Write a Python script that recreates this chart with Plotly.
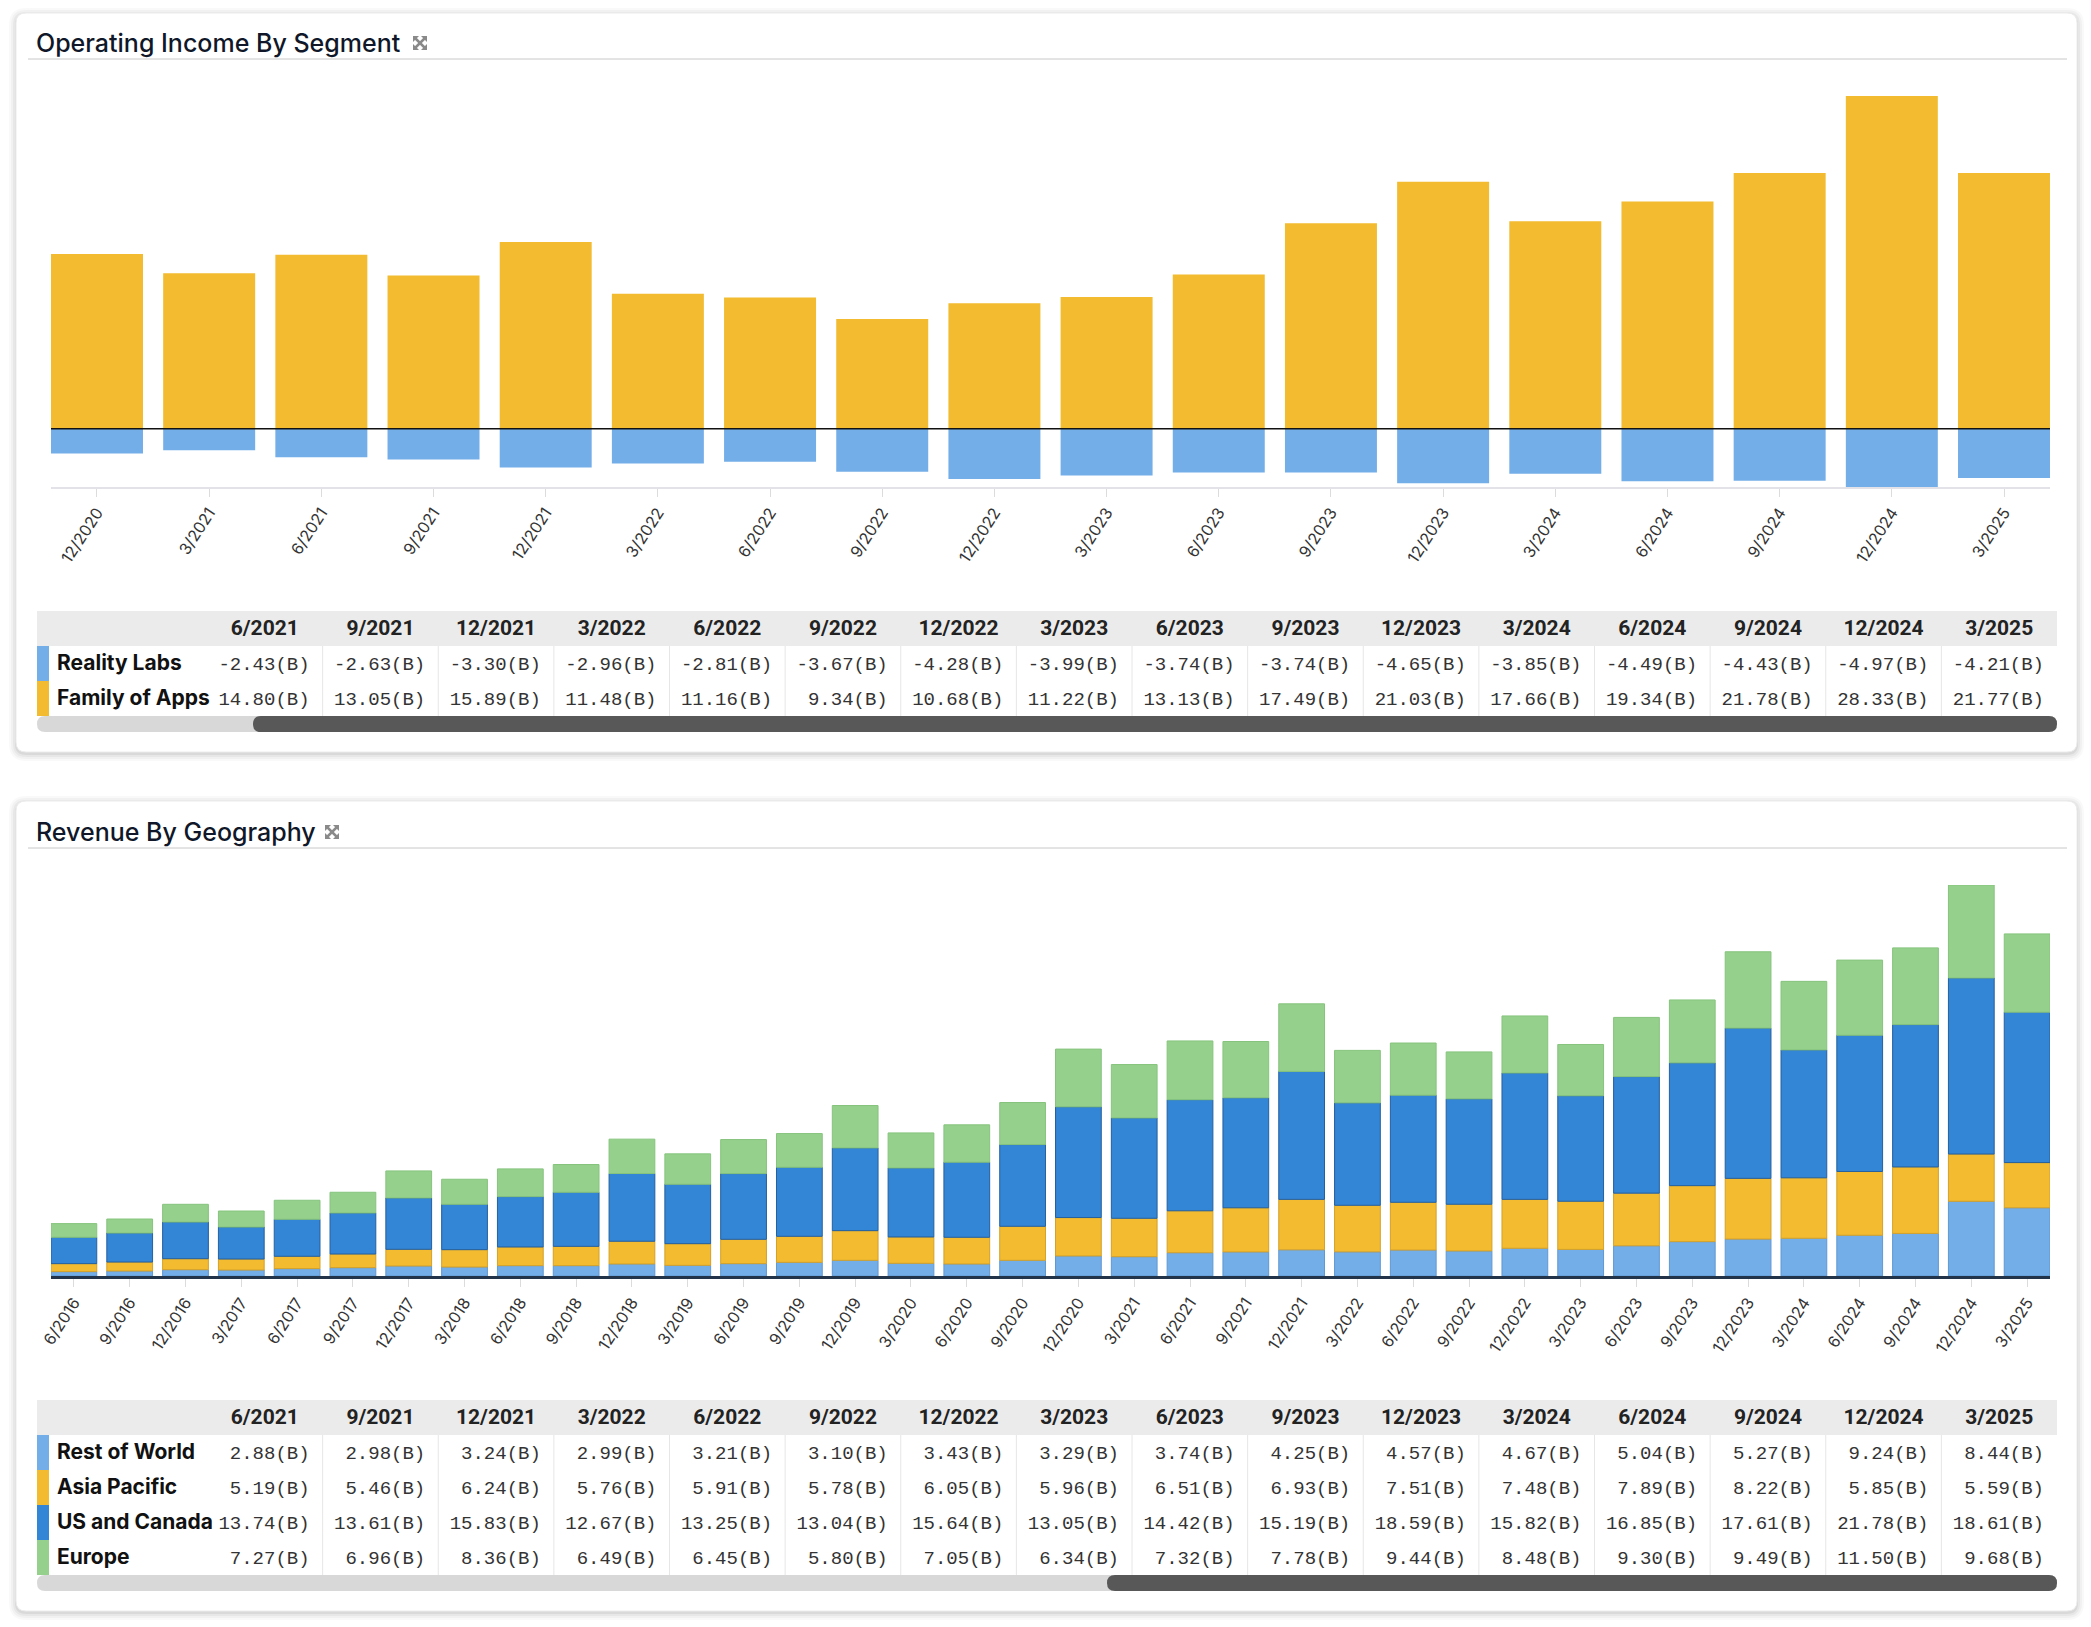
import plotly.graph_objects as go

W, H = 2091, 1627

# ---------------- data ----------------
seg_dates = ["12/2020", "3/2021", "6/2021", "9/2021", "12/2021", "3/2022", "6/2022", "9/2022",
             "12/2022", "3/2023", "6/2023", "9/2023", "12/2023", "3/2024", "6/2024", "9/2024",
             "12/2024", "3/2025"]
reality_labs = [-2.12, -1.83, -2.43, -2.63, -3.30, -2.96, -2.81, -3.67, -4.28, -3.99, -3.74,
                -3.74, -4.65, -3.85, -4.49, -4.43, -4.97, -4.21]
family_of_apps = [14.87, 13.23, 14.80, 13.05, 15.89, 11.48, 11.16, 9.34, 10.68, 11.22, 13.13,
                  17.49, 21.03, 17.66, 19.34, 21.78, 28.33, 21.77]

geo_dates = ["6/2016", "9/2016", "12/2016", "3/2017", "6/2017", "9/2017", "12/2017", "3/2018",
             "6/2018", "9/2018", "12/2018", "3/2019", "6/2019", "9/2019", "12/2019", "3/2020",
             "6/2020", "9/2020", "12/2020", "3/2021", "6/2021", "9/2021", "12/2021", "3/2022",
             "6/2022", "9/2022", "12/2022", "3/2023", "6/2023", "9/2023", "12/2023", "3/2024",
             "6/2024", "9/2024", "12/2024", "3/2025"]
rest_of_world = [0.54, 0.62, 0.78, 0.74, 0.91, 1.03, 1.24, 1.11, 1.28, 1.28, 1.49, 1.32, 1.53,
                 1.69, 1.94, 1.57, 1.49, 1.94, 2.48, 2.39, 2.88, 2.98, 3.24, 2.99, 3.21, 3.10,
                 3.43, 3.29, 3.74, 4.25, 4.57, 4.67, 5.04, 5.27, 9.24, 8.44]
asia_pacific = [0.99, 1.11, 1.36, 1.36, 1.53, 1.69, 2.06, 2.15, 2.31, 2.39, 2.81, 2.68, 3.01,
                3.22, 3.67, 3.26, 3.30, 4.21, 4.75, 4.75, 5.19, 5.46, 6.24, 5.76, 5.91, 5.78,
                6.05, 5.96, 6.51, 6.93, 7.51, 7.48, 7.89, 8.22, 5.85, 5.59]
us_canada = [3.26, 3.59, 4.54, 3.96, 4.58, 5.08, 6.36, 5.61, 6.23, 6.69, 8.38, 7.35, 8.13, 8.54,
             10.24, 8.54, 9.29, 10.11, 13.70, 12.42, 13.74, 13.61, 15.83, 12.67, 13.25, 13.04,
             15.64, 13.05, 14.42, 15.19, 18.59, 15.82, 16.85, 17.61, 21.78, 18.61]
europe = [1.69, 1.73, 2.19, 1.98, 2.35, 2.56, 3.34, 3.10, 3.43, 3.43, 4.25, 3.76, 4.21, 4.17,
          5.24, 4.33, 4.62, 5.20, 7.14, 6.60, 7.27, 6.96, 8.36, 6.49, 6.45, 5.80, 7.05, 6.34,
          7.32, 7.78, 9.44, 8.48, 9.30, 9.49, 11.50, 9.68]

TABLE_COLS = 16

# ---------------- style ----------------
C_LBLUE = "#74aee9"
C_YELLOW = "#f2bb30"
C_BLUE = "#3385d6"
C_GREEN = "#95d08c"

# table geometry (pixel units inside the table axes)
T_W = 2020
MARK_W = 12
LABEL_W = 158
COL_W = (T_W - MARK_W - LABEL_W) / TABLE_COLS
ROW_H = 35
TXT_DY = 1.5


def px(x):
    return x / W


def py(y):
    return 1 - y / H


def rr_path(x0, y0, x1, y1, r):
    pts = [
        f"M {px(x0 + r)},{py(y0)}", f"L {px(x1 - r)},{py(y0)}",
        f"Q {px(x1)},{py(y0)} {px(x1)},{py(y0 + r)}", f"L {px(x1)},{py(y1 - r)}",
        f"Q {px(x1)},{py(y1)} {px(x1 - r)},{py(y1)}", f"L {px(x0 + r)},{py(y1)}",
        f"Q {px(x0)},{py(y1)} {px(x0)},{py(y1 - r)}", f"L {px(x0)},{py(y0 + r)}",
        f"Q {px(x0)},{py(y0)} {px(x0 + r)},{py(y0)}", "Z"]
    return " ".join(pts)


fig = go.Figure()
shapes = []

# ---------------- cards (drawn first) ----------------
for (y0, y1) in [(13, 752), (801, 1611)]:
    for k, a in [(7, 0.025), (5, 0.03), (3, 0.04), (1, 0.06)]:
        shapes.append(dict(type="path", path=rr_path(16 - k, y0 - k + 2, 2077 + k, y1 + k + 2, 10 + k),
                           xref="paper", yref="paper", fillcolor=f"rgba(0,0,0,{a})",
                           line=dict(width=0), layer="below"))
    shapes.append(dict(type="path", path=rr_path(16, y0, 2077, y1, 10), xref="paper", yref="paper",
                       fillcolor="white", line=dict(color="#ececec", width=1), layer="below"))

# ---------------- top chart ----------------
fig.add_trace(go.Bar(x=seg_dates, y=reality_labs, name="Reality Labs", marker_color=C_LBLUE,
                     marker_line_width=0, xaxis="x", yaxis="y"))
fig.add_trace(go.Bar(x=seg_dates, y=family_of_apps, name="Family of Apps", marker_color=C_YELLOW,
                     marker_line_width=0, xaxis="x", yaxis="y"))

# ---------------- bottom chart ----------------
for name, vals, col, lc in [("Rest of World", rest_of_world, C_LBLUE, "#5f98d2"),
                            ("Asia Pacific", asia_pacific, C_YELLOW, "#d4a12a"),
                            ("US and Canada", us_canada, C_BLUE, "#24609e"),
                            ("Europe", europe, C_GREEN, "#86c47d")]:
    fig.add_trace(go.Bar(x=geo_dates, y=vals, name=name, marker_color=col,
                         marker_line_color=lc, marker_line_width=1, xaxis="x2", yaxis="y2"))


# ---------------- tables (drawn on their own pixel-unit axes) ----------------
def fmt(v):
    return f"{v:.2f}(B)"


def add_table(ax, dates, labels, colors, series):
    xa, ya = f"x{ax}", f"y{ax}"
    n = len(labels)
    d = dates[-TABLE_COLS:]
    col_left = [MARK_W + LABEL_W + j * COL_W for j in range(TABLE_COLS)]
    shapes.append(dict(type="rect", xref=xa, yref=ya, x0=0, x1=T_W, y0=0, y1=ROW_H,
                       fillcolor="#ebebeb", line=dict(width=0), layer="below"))
    for i, c in enumerate(colors):
        shapes.append(dict(type="rect", xref=xa, yref=ya, x0=0, x1=MARK_W,
                           y0=ROW_H * (i + 1), y1=ROW_H * (i + 2),
                           fillcolor=c, line=dict(width=0), layer="below"))
    for j in range(1, TABLE_COLS):
        shapes.append(dict(type="line", xref=xa, yref=ya, x0=col_left[j], x1=col_left[j],
                           y0=ROW_H, y1=ROW_H * (n + 1), line=dict(color="#e6e6e6", width=1),
                           layer="below"))
    fig.add_trace(go.Scatter(x=[cl + COL_W / 2 for cl in col_left],
                             y=[ROW_H / 2 + TXT_DY] * TABLE_COLS,
                             text=[f"<b>{t}</b>" for t in d], mode="text",
                             textposition="middle center", hoverinfo="skip",
                             textfont=dict(family="Roboto", size=21, color="#222222"),
                             xaxis=xa, yaxis=ya))
    fig.add_trace(go.Scatter(x=[MARK_W + 8] * n, y=[ROW_H * (i + 1.5) + TXT_DY for i in range(n)],
                             text=[f"<b>{l}</b>" for l in labels], mode="text",
                             textposition="middle right", hoverinfo="skip",
                             textfont=dict(family="Inter", size=21, color="#111111"),
                             xaxis=xa, yaxis=ya))
    xs, ys, ts = [], [], []
    for i, s in enumerate(series):
        for j, v in enumerate(s[-TABLE_COLS:]):
            xs.append(col_left[j] + COL_W - 13)
            ys.append(ROW_H * (i + 1.5) + TXT_DY)
            ts.append(fmt(v))
    fig.add_trace(go.Scatter(x=xs, y=ys, text=ts, mode="text", textposition="middle left",
                             hoverinfo="skip",
                             textfont=dict(family="Liberation Mono", size=19, color="#333333"),
                             xaxis=xa, yaxis=ya))


add_table(3, seg_dates, ["Reality Labs", "Family of Apps"], [C_LBLUE, C_YELLOW],
          [reality_labs, family_of_apps])
add_table(4, geo_dates, ["Rest of World", "Asia Pacific", "US and Canada", "Europe"],
          [C_LBLUE, C_YELLOW, C_BLUE, C_GREEN],
          [rest_of_world, asia_pacific, us_canada, europe])

# ---------------- decorations ----------------
for yl in [59, 848]:
    shapes.append(dict(type="line", xref="paper", yref="paper", x0=px(28), x1=px(2067),
                       y0=py(yl), y1=py(yl), line=dict(color="#c8c8c8", width=1)))

for (cx, cy) in [(420, 43), (332, 832)]:
    for (ax, ay, bx, by) in [(cx - 5, cy - 5, cx + 5, cy + 5), (cx - 5, cy + 5, cx + 5, cy - 5)]:
        shapes.append(dict(type="line", xref="paper", yref="paper", x0=px(ax), y0=py(ay),
                           x1=px(bx), y1=py(by), line=dict(color="#8a8a8a", width=2.5)))
    for sx in (-1, 1):
        for sy in (-1, 1):
            xc, yc = cx + sx * 7, cy + sy * 7
            p = (f"M {px(xc)},{py(yc)} L {px(xc - sx * 6)},{py(yc)} "
                 f"L {px(xc)},{py(yc - sy * 6)} Z")
            shapes.append(dict(type="path", path=p, xref="paper", yref="paper",
                               fillcolor="#8a8a8a", line=dict(width=0)))

shapes.append(dict(type="line", xref="x domain", yref="y", x0=0, x1=1, y0=0, y1=0,
                   line=dict(color="#111111", width=1.5)))

for (yt, thumb_x0) in [(716, 253), (1575, 1107)]:
    shapes.append(dict(type="path", path=rr_path(37, yt, 2057, yt + 16, 8), xref="paper",
                       yref="paper", fillcolor="#d8d8d8", line=dict(width=0)))
    shapes.append(dict(type="path", path=rr_path(thumb_x0, yt, 2057, yt + 16, 8), xref="paper",
                       yref="paper", fillcolor="#585858", line=dict(width=0)))

annotations = [
    dict(text="Operating Income By Segment", x=px(34), y=py(43), xref="paper", yref="paper",
         xanchor="left", yanchor="middle", showarrow=False,
         font=dict(family="Inter", size=25, color="#0f1729", weight=500)),
    dict(text="Revenue By Geography", x=px(34), y=py(832), xref="paper", yref="paper",
         xanchor="left", yanchor="middle", showarrow=False,
         font=dict(family="Inter", size=25, color="#0f1729", weight=500)),
]

tickfont = dict(family="Inter", size=16, color="#333333")
hidden = dict(visible=False, showgrid=False, zeroline=False, automargin=False, fixedrange=True)

fig.update_layout(
    width=W, height=H, margin=dict(l=0, r=0, t=0, b=0, autoexpand=False),
    paper_bgcolor="white", plot_bgcolor="rgba(0,0,0,0)",
    showlegend=False, barmode="relative", bargap=0.18,
    shapes=shapes, annotations=annotations,
    xaxis=dict(domain=[px(51), px(2050)], type="category", range=[-0.41, len(seg_dates) - 0.59],
               anchor="y", showline=True, linecolor="#e2e2e8", linewidth=2,
               ticks="outside", ticklen=8, tickcolor="#dcdcdc", tickwidth=1, automargin=False,
               tickangle=-57, tickfont=tickfont, showgrid=False, fixedrange=True),
    xaxis5=dict(domain=[px(51), px(2050)], overlaying="x", anchor="y", side="bottom",
                range=[-0.41, len(seg_dates) - 0.59], tickvals=list(range(len(seg_dates))),
                ticks="inside", ticklen=8, tickcolor="#dcdcdc", tickwidth=1,
                showticklabels=False, showline=False, showgrid=False, zeroline=False,
                automargin=False, fixedrange=True),
    yaxis=dict(domain=[py(487), py(96)], range=[min(reality_labs), max(family_of_apps)],
               anchor="x", **hidden),
    xaxis2=dict(domain=[px(51), px(2050)], type="category", range=[-0.41, len(geo_dates) - 0.59],
                anchor="y2", showline=True, linecolor="#22344a", linewidth=3, automargin=False,
                ticks="outside", ticklen=8, tickcolor="#dcdcdc", tickwidth=1,
                tickangle=-57, tickfont=tickfont, showgrid=False),
    yaxis2=dict(domain=[py(1276), py(885)],
                range=[0, max(a + b + c + d for a, b, c, d in
                              zip(rest_of_world, asia_pacific, us_canada, europe))],
                anchor="x2", **hidden),
    xaxis3=dict(domain=[px(37), px(2057)], range=[0, T_W], anchor="y3", **hidden),
    yaxis3=dict(domain=[py(716), py(611)], range=[3 * ROW_H, 0], anchor="x3", **hidden),
    xaxis4=dict(domain=[px(37), px(2057)], range=[0, T_W], anchor="y4", **hidden),
    yaxis4=dict(domain=[py(1575), py(1400)], range=[5 * ROW_H, 0], anchor="x4", **hidden),
)

fig.write_html("out.html")
